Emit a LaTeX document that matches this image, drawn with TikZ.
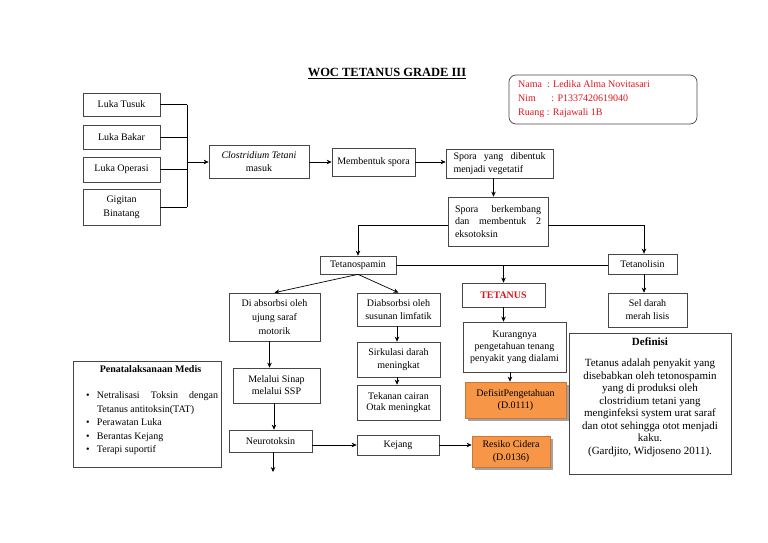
\documentclass[tikz,border=0pt]{standalone}
\usepackage{fontspec}
\setmainfont{Liberation Serif}
\usetikzlibrary{arrows.meta,shadows,calc}
\definecolor{boxline}{RGB}{70,70,70}
\definecolor{orangefill}{RGB}{247,150,70}
\definecolor{redtxt}{RGB}{225,20,30}
\begin{document}
\begin{tikzpicture}[x=1pt,y=-1pt,
  bx/.style={draw=boxline, line width=0.7pt, fill=white, inner sep=2pt, align=center, font=\fontsize{10}{12.5}\selectfont},
  obx/.style={bx, draw=orangefill!80!black, fill=orangefill, drop shadow={shadow xshift=2.5pt, shadow yshift=-2.5pt, fill=black!45, opacity=0.8}},
  conn/.style={line width=0.7pt, black},
  arr/.style={conn, -{Stealth[length=5pt,width=4.5pt]}},
  txt/.style={inner sep=0pt}
]
\useasboundingbox (0,0) rectangle (768,543);

% title
\node[txt, font=\fontsize{12.5}{14}\selectfont\bfseries] (title) at (387,73.5) {\underline{WOC TETANUS GRADE III}};

% info box
\node[draw=boxline, line width=0.7pt, rounded corners=7pt, minimum width=188pt, minimum height=49pt] (info) at (603,99.5) {};
\node[txt, anchor=north west, align=left, text=redtxt, font=\fontsize{10}{14}\selectfont] (infotxt) at (518,80.5)
  {Nama~ : Ledika Alma Novitasari\\Nim\hspace{1.55em}: P1337420619040\\Ruang : Rajawali 1B};

% causes
\node[bx, minimum width=77pt, minimum height=23pt] (tusuk) at (121.5,104.5) {Luka Tusuk};
\node[bx, minimum width=77pt, minimum height=24pt] (bakar) at (121.5,137) {Luka Bakar};
\node[bx, minimum width=77pt, minimum height=25pt] (operasi) at (121.5,169.5) {Luka Operasi};
\node[bx, minimum width=77pt, minimum height=36pt, font=\fontsize{10}{14}\selectfont] (gigitan) at (121.5,207) {Gigitan\\Binatang};
\coordinate (jx) at (187,162);

\node[bx, minimum width=100pt, minimum height=33pt] (clos) at (259,161.5) {\textit{Clostridium Tetani}\\masuk};
\node[bx, minimum width=83pt, minimum height=28pt] (membentuk) at (373.5,162) {Membentuk spora};
\node[bx, minimum width=107pt, minimum height=29pt, text width=92pt, align=justify] (sporaveg) at (499.5,163.5) {Spora yang dibentuk\linebreak menjadi vegetatif};
\node[bx, minimum width=100pt, minimum height=49pt, text width=86pt, align=justify] (sporaberk) at (498,221.5) {Spora berkembang\linebreak dan membentuk 2\linebreak eksotoksin};

\node[bx, minimum width=76pt, minimum height=18pt] (tspam) at (358,265) {Tetanospamin};
\node[bx, minimum width=69pt, minimum height=20pt] (tlis) at (642.5,264) {Tetanolisin};

\node[bx, minimum width=83pt, minimum height=24pt, text=redtxt, font=\fontsize{10}{12.5}\selectfont\bfseries] (tetanus) at (503.5,295) {TETANUS};
\node[bx, minimum width=103pt, minimum height=50pt, font=\fontsize{10}{12}\selectfont] (kurang) at (514.5,347) {Kurangnya\\pengetahuan tenang\\penyakit yang dialami};
\node[obx, minimum width=101pt, minimum height=36pt] (defisit) at (515.5,400) {DefisitPengetahuan\\(D.0111)};
\node[obx, minimum width=78pt, minimum height=31pt] (resiko) at (511,451.5) {Resiko Cidera\\(D.0136)};

\node[bx, minimum width=79pt, minimum height=34pt, font=\fontsize{10}{13}\selectfont] (sel) at (647.5,310) {Sel darah\\merah lisis};

\node[bx, minimum width=91pt, minimum height=48pt, font=\fontsize{10}{14}\selectfont] (absorb1) at (274.5,317) {Di absorbsi oleh\\ujung saraf\\motorik};
\node[bx, minimum width=83pt, minimum height=33pt] (absorb2) at (398.5,309.5) {Diabsorbsi oleh\\susunan limfatik};
\node[bx, minimum width=83pt, minimum height=35pt, font=\fontsize{10}{13}\selectfont] (sirk) at (398.5,359.5) {Sirkulasi darah\\meningkat};
\node[bx, minimum width=83pt, minimum height=35pt, font=\fontsize{10}{11.5}\selectfont] (tekan) at (398.5,402.5) {Tekanan cairan\\Otak meningkat};
\node[bx, minimum width=87pt, minimum height=35pt, font=\fontsize{10}{12}\selectfont] (melalui) at (276.5,385.5) {Melalui Sinap\\melalui SSP};
\node[bx, minimum width=83pt, minimum height=22pt] (neuro) at (270.5,441) {Neurotoksin};
\node[bx, minimum width=82pt, minimum height=20pt] (kejang) at (398,445) {Kejang};
\coordinate (nend) at (273,472);

% Penatalaksanaan
\node[draw=boxline, line width=0.7pt, minimum width=148pt, minimum height=106pt] (penata) at (147,414) {};
\node[txt, anchor=north, text width=135pt, align=justify, font=\fontsize{10}{13.5}\selectfont] (penatatxt) at (150.5,365)
  {{\centering\textbf{Penatalaksanaan Medis}\par}
   \vspace{13pt}
   \hangindent=14pt\hangafter=1\noindent\makebox[14pt][l]{\hspace{3pt}\textbullet}Netralisasi Toksin dengan\linebreak Tetanus antitoksin(TAT)\par
   \hangindent=14pt\hangafter=1\noindent\makebox[14pt][l]{\hspace{3pt}\textbullet}Perawatan Luka\par
   \hangindent=14pt\hangafter=1\noindent\makebox[14pt][l]{\hspace{3pt}\textbullet}Berantas Kejang\par
   \hangindent=14pt\hangafter=1\noindent\makebox[14pt][l]{\hspace{3pt}\textbullet}Terapi suportif\par};

% Definisi
\node[draw=boxline, line width=0.7pt, minimum width=162pt, minimum height=141pt] (definisi) at (650,403.5) {};
\node[txt, anchor=north, align=center, font=\fontsize{11}{12.5}\selectfont] (definisitxt) at (650,337.5)
  {\textbf{Definisi}\\[9pt]
   Tetanus adalah penyakit yang\\
   disebabkan oleh tetonospamin\\
   yang di produksi oleh\\
   clostridium tetani yang\\
   menginfeksi system urat saraf\\
   dan otot sehingga otot menjadi\\
   kaku.\\
   (Gardjito, Widjoseno 2011).};

% connectors
\draw[conn] (tusuk.east) -- (tusuk.east -| jx);
\draw[conn] (bakar.east) -- (bakar.east -| jx);
\draw[conn] (operasi.east) -- (operasi.east -| jx);
\draw[conn] (gigitan.east) -- (gigitan.east -| jx);
\draw[conn] (tusuk.east -| jx) -- (gigitan.east -| jx);
\draw[arr] (jx) -- (clos.west |- jx);
\draw[arr] (clos.east |- membentuk.west) -- (membentuk.west);
\draw[arr] (membentuk.east) -- (membentuk.east -| sporaveg.west);
\draw[arr] ([xshift=-6pt]sporaveg.south) -- ([xshift=-6pt]sporaveg.south |- sporaberk.north);
\draw[arr] ([yshift=-3.5pt]sporaberk.west) -| (tspam.north);
\draw[arr] ([yshift=-3.5pt]sporaberk.east) -| ([xshift=1.5pt]tlis.north);
\draw[conn] (tspam.east) -- (tspam.east -| tlis.west);
\draw[arr] (tspam.east -| tetanus.north) -- (tetanus.north);
\draw[arr] (tetanus.south) -- (tetanus.south |- kurang.north);
\draw[arr] ([xshift=-4.5pt]kurang.south) -- ([xshift=-4.5pt]kurang.south |- defisit.north);
\draw[arr] ([xshift=1.5pt]tlis.south) -- ([xshift=1.5pt]tlis.south |- sel.north);
\draw[arr] (tspam.south) -- (absorb1.north);
\draw[arr] (tspam.south) -- (absorb2.north);
\draw[arr] ([xshift=-5pt]absorb1.south) -- ([xshift=-5pt]absorb1.south |- melalui.north);
\draw[arr] ([xshift=-2.5pt]melalui.south) -- ([xshift=-2.5pt]melalui.south |- neuro.north);
\draw[arr] ([xshift=-1.5pt]absorb2.south) -- ([xshift=-1.5pt]absorb2.south |- sirk.north);
\draw[arr] ([xshift=-1.5pt]sirk.south) -- ([xshift=-1.5pt]sirk.south |- tekan.north);
\draw[arr] (neuro.east |- kejang.west) -- (kejang.west);
\draw[arr] (kejang.east) -- (kejang.east -| resiko.west);
\draw[arr] (neuro.south -| nend) -- (nend);
\end{tikzpicture}
\end{document}
